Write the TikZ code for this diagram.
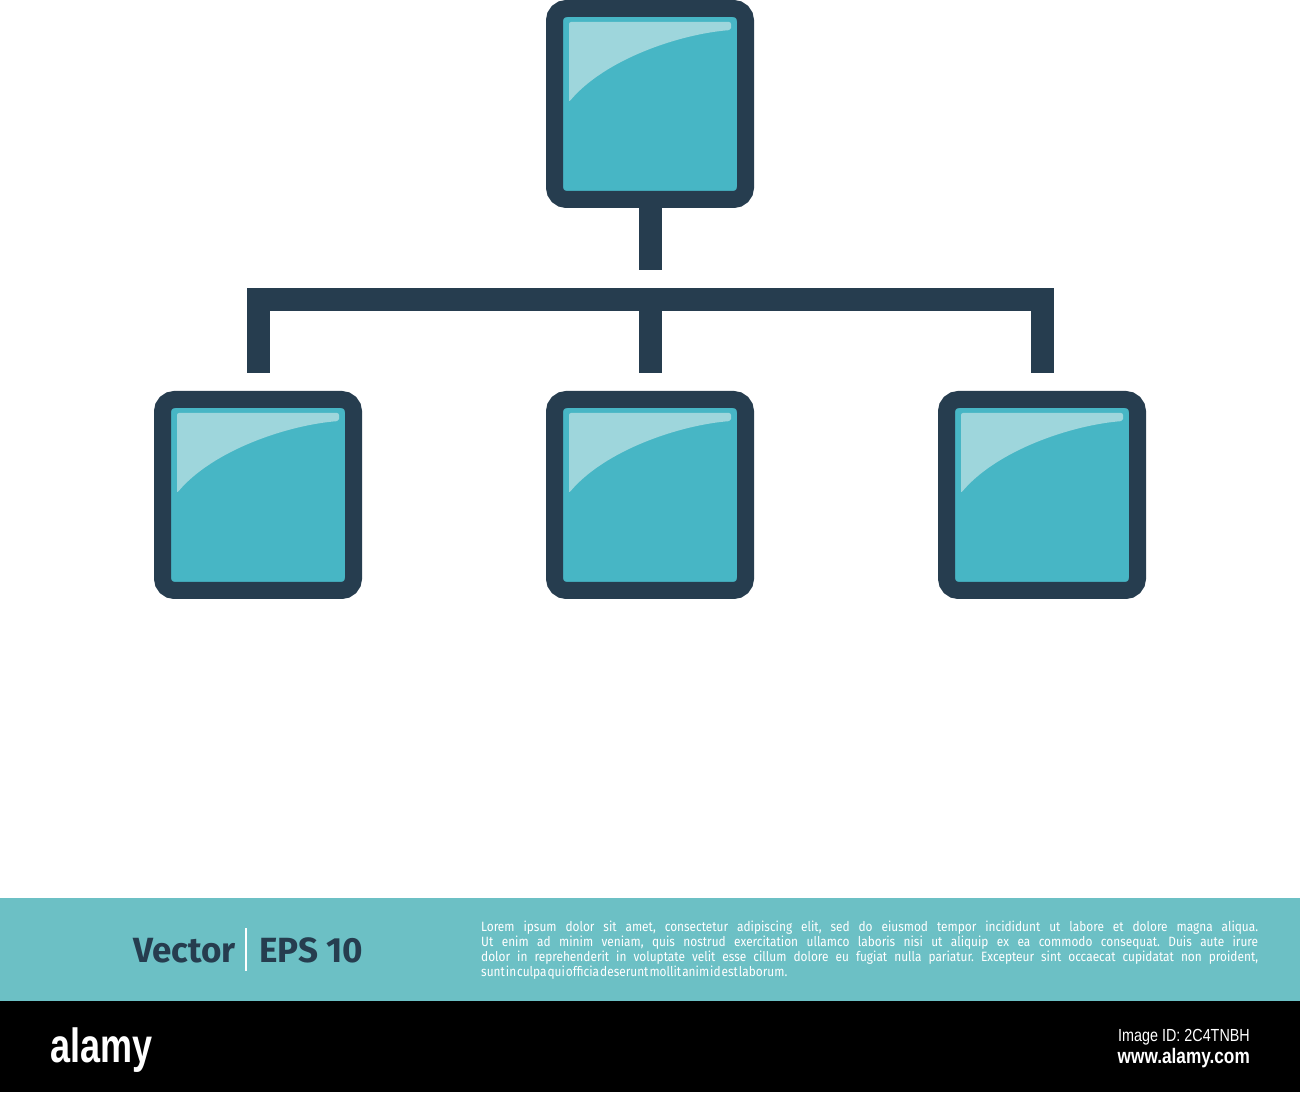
\documentclass[tikz,border=0pt]{standalone}
\usepackage{fontspec}
\setmainfont{Fira Sans}
\newfontfamily\lorfont[FakeStretch=0.88]{Fira Sans}
\newfontfamily\narrowfont[FakeStretch=0.75]{Liberation Sans}
\newfontfamily\idfont[FakeStretch=0.82]{Liberation Sans}
\definecolor{navy}{HTML}{263D4F}
\definecolor{tile}{HTML}{47B6C5}
\definecolor{gloss}{HTML}{9ED6DC}
\definecolor{band}{HTML}{6CC0C5}

\begin{document}
\begin{tikzpicture}[x=1pt,y=1pt]
\tikzset{Box/.style={draw=navy,fill=tile,line width=17pt,minimum size=191pt,inner sep=0pt,rounded corners=12pt,
  path picture={\fill[gloss,rounded corners=2pt,shift={(path picture bounding box.center)}]
    (-81,2) -- (-81,82) -- (81,82) -- (81,74) .. controls (30,70) and (-45,45) .. (-81,2) -- cycle;}}}
\tikzset{Link/.style={draw=navy,line width=23pt}}
\tikzset{T/.style={inner sep=0pt}}

  \useasboundingbox[fill=white] (0,0) rectangle (1300,1092);

  \node[Box] (root)  at (650,988) {};
  \node[Box] (left)  at (258,597) {};
  \node[Box] (mid)   at (650,597) {};
  \node[Box] (right) at (1042,597) {};

  \coordinate (bar) at (650,792.5);
  \draw[Link] (root.south) -- ++(0,-62);
  \draw[Link] ([yshift=18pt]left.north) |- (bar) -| ([yshift=18pt]right.north);
  \draw[Link] (bar) -- ([yshift=18pt]mid.north);

  % footer
  \fill[band] (0,91) rectangle (1300,194);
  \fill[black] (0,0) rectangle (1300,91);
  \node[T,anchor=base east,text=navy,font=\bfseries\fontsize{35}{40}\selectfont] (vec) at (236,130) {Vector};
  \draw[white,line width=2.5pt] (246,121) -- (246,164);
  \node[T,anchor=base west,text=navy,font=\bfseries\fontsize{35}{40}\selectfont] (eps) at (259,130) {EPS 10};
  \node[T,anchor=north west,text=white,align=left,font=\lorfont\frenchspacing\fontsize{13.5}{15}\selectfont] (lorem) at (481,171) {%
    \makebox[777pt][s]{Lorem ipsum dolor sit amet, consectetur adipiscing elit, sed do eiusmod tempor incididunt ut labore et dolore magna aliqua.}\\
    \makebox[777pt][s]{Ut enim ad minim veniam, quis nostrud exercitation ullamco laboris nisi ut aliquip ex ea commodo consequat. Duis aute irure}\\
    \makebox[777pt][s]{dolor in reprehenderit in voluptate velit esse cillum dolore eu fugiat nulla pariatur. Excepteur sint occaecat cupidatat non proident,}\\
    {\spaceskip=1pt sunt in culpa qui officia deserunt mollit anim id est laborum.}};

  \node[T,anchor=base west,text=white,font=\narrowfont\bfseries\fontsize{48}{50}\selectfont] (logo) at (50,30) {alamy};
  \node[T,anchor=base east,text=white,font=\idfont\fontsize{17.5}{20}\selectfont] (imgid) at (1250,51) {Image ID: 2C4TNBH};
  \node[T,anchor=base east,text=white,font=\idfont\bfseries\fontsize{21}{22}\selectfont] (url) at (1250,29) {www.alamy.com};
\end{tikzpicture}
\end{document}
